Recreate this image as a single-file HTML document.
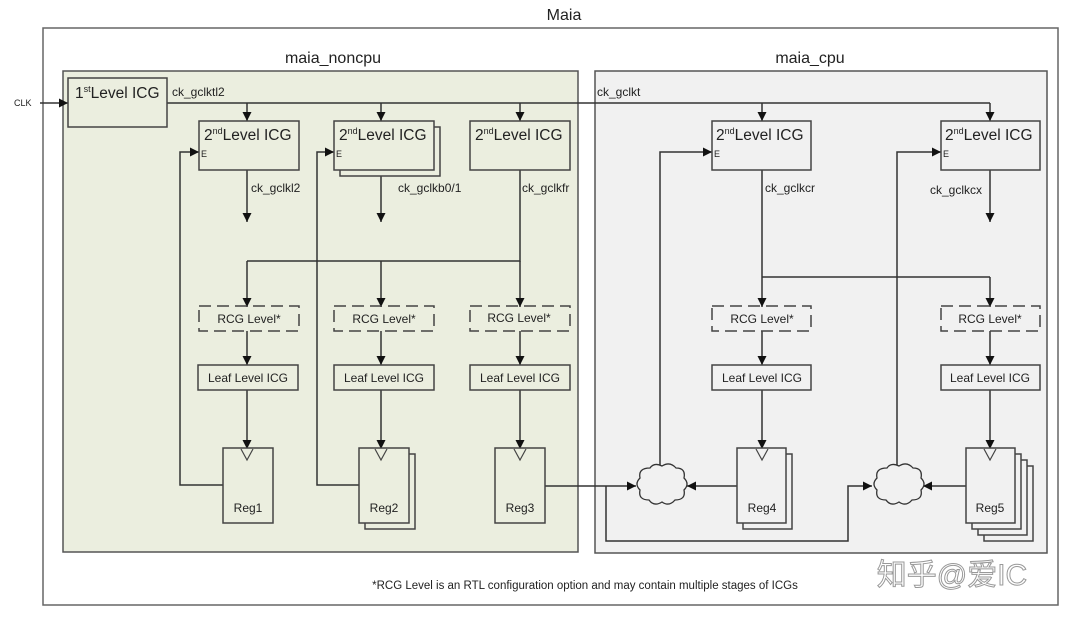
<!DOCTYPE html>
<html><head><meta charset="utf-8"><style>
html,body{margin:0;padding:0;background:#fff;}
svg{display:block;}
text{font-family:"Liberation Sans",Arial,sans-serif;fill:#222;}
</style></head><body>
<svg width="1080" height="620" viewBox="0 0 1080 620" xmlns="http://www.w3.org/2000/svg">
<defs>
<marker id="a" viewBox="0 0 10 10" refX="10" refY="5" markerWidth="9" markerHeight="9" markerUnits="userSpaceOnUse" orient="auto"><path d="M0,0 L10,5 L0,10 z" fill="#111"/></marker>
</defs>
<rect x="0" y="0" width="1080" height="620" fill="#fff"/>
<text x="564" y="20" font-size="16" text-anchor="middle">Maia</text>
<rect x="43" y="28" width="1015" height="577" fill="#fff" stroke="#666" stroke-width="1.5"/>
<text x="333" y="63" font-size="16" text-anchor="middle">maia_noncpu</text>
<text x="810" y="63" font-size="16" text-anchor="middle">maia_cpu</text>
<rect x="63" y="71" width="515" height="481" fill="#ebeedf" stroke="#555" stroke-width="1.5"/>
<rect x="595" y="71" width="452" height="482" fill="#f1f1f1" stroke="#555" stroke-width="1.5"/>

<g stroke="#333" stroke-width="1.5" fill="none">
<line x1="40" y1="103" x2="68" y2="103" marker-end="url(#a)"/>
<line x1="167" y1="103" x2="990" y2="103"/>
<line x1="247" y1="103" x2="247" y2="121" marker-end="url(#a)"/>
<line x1="381" y1="103" x2="381" y2="121" marker-end="url(#a)"/>
<line x1="520" y1="103" x2="520" y2="121" marker-end="url(#a)"/>
<line x1="762" y1="103" x2="762" y2="121" marker-end="url(#a)"/>
<line x1="990" y1="103" x2="990" y2="121" marker-end="url(#a)"/>
<line x1="247" y1="170" x2="247" y2="222" marker-end="url(#a)"/>
<line x1="381" y1="170" x2="381" y2="222" marker-end="url(#a)"/>
<polyline points="520,170 520,261 247,261"/>
<line x1="247" y1="261" x2="247" y2="307" marker-end="url(#a)"/>
<line x1="381" y1="261" x2="381" y2="307" marker-end="url(#a)"/>
<line x1="520" y1="261" x2="520" y2="307" marker-end="url(#a)"/>
<line x1="762" y1="170" x2="762" y2="307" marker-end="url(#a)"/>
<polyline points="762,277 990,277"/>
<line x1="990" y1="277" x2="990" y2="307" marker-end="url(#a)"/>
<line x1="990" y1="170" x2="990" y2="222" marker-end="url(#a)"/>
<line x1="247" y1="331" x2="247" y2="365" marker-end="url(#a)"/>
<line x1="381" y1="331" x2="381" y2="365" marker-end="url(#a)"/>
<line x1="520" y1="331" x2="520" y2="365" marker-end="url(#a)"/>
<line x1="762" y1="331" x2="762" y2="365" marker-end="url(#a)"/>
<line x1="990" y1="331" x2="990" y2="365" marker-end="url(#a)"/>
<line x1="247" y1="390" x2="247" y2="449" marker-end="url(#a)"/>
<line x1="381" y1="390" x2="381" y2="449" marker-end="url(#a)"/>
<line x1="520" y1="390" x2="520" y2="449" marker-end="url(#a)"/>
<line x1="762" y1="390" x2="762" y2="449" marker-end="url(#a)"/>
<line x1="990" y1="390" x2="990" y2="449" marker-end="url(#a)"/>
<polyline points="223,485 180,485 180,152 199,152" marker-end="url(#a)"/>
<polyline points="359,485 317,485 317,152 334,152" marker-end="url(#a)"/>
<polyline points="660,467 660,152 712,152" marker-end="url(#a)"/>
<polyline points="897,467 897,152 941,152" marker-end="url(#a)"/>
<line x1="545" y1="486" x2="636" y2="486" marker-end="url(#a)"/>
<line x1="737" y1="486" x2="687" y2="486" marker-end="url(#a)"/>
<line x1="966" y1="486" x2="923" y2="486" marker-end="url(#a)"/>
<polyline points="606,486 606,541 848,541 848,486 872,486" marker-end="url(#a)"/>
</g>

<g stroke="#444" stroke-width="1.5" fill="#ebeedf">
<rect x="68" y="78" width="99" height="49"/>
<rect x="199" y="121" width="100" height="49"/>
<rect x="340" y="127" width="100" height="49"/>
<rect x="334" y="121" width="100" height="49"/>
<rect x="470" y="121" width="100" height="49"/>
<rect x="198" y="365" width="100" height="25"/>
<rect x="334" y="365" width="100" height="25"/>
<rect x="470" y="365" width="100" height="25"/>
<rect x="223" y="448" width="50" height="75"/>
<rect x="365" y="454" width="50" height="75"/>
<rect x="359" y="448" width="50" height="75"/>
<rect x="495" y="448" width="50" height="75"/>
</g>
<g stroke="#444" stroke-width="1.5" fill="#f1f1f1">
<rect x="712" y="121" width="99" height="49"/>
<rect x="941" y="121" width="99" height="49"/>
<rect x="712" y="365" width="99" height="25"/>
<rect x="941" y="365" width="99" height="25"/>
<rect x="743" y="454" width="49" height="75"/>
<rect x="737" y="448" width="49" height="75"/>
<rect x="984" y="466" width="49" height="75"/>
<rect x="978" y="460" width="49" height="75"/>
<rect x="972" y="454" width="49" height="75"/>
<rect x="966" y="448" width="49" height="75"/>
</g>
<g stroke="#444" stroke-width="1.5" fill="none" stroke-dasharray="12,6">
<rect x="199" y="306" width="100" height="25"/>
<rect x="334" y="306" width="100" height="25"/>
<rect x="470" y="306" width="100" height="25"/>
<rect x="712" y="306" width="99" height="25"/>
<rect x="941" y="306" width="99" height="25"/>
</g>
<g stroke="#444" stroke-width="1.2" fill="none">
<path d="M241,449 L247,460 L253,449"/>
<path d="M375,449 L381,460 L387,449"/>
<path d="M514,449 L520,460 L526,449"/>
<path d="M756,449 L762,460 L768,449"/>
<path d="M984,449 L990,460 L996,449"/>
</g>
<g stroke="#333" stroke-width="1.3" fill="#f1f1f1">
<path d="M640,478 q-2,-10 10,-10 q4,-6 12,-2 q8,-5 14,2 q10,0 8,10 q6,6 0,12 q2,10 -9,10 q-6,7 -13,2 q-8,5 -13,-2 q-11,0 -9,-10 q-6,-6 0,-12 z"/>
<path d="M877,478 q-2,-10 10,-10 q4,-6 12,-2 q8,-5 14,2 q10,0 8,10 q6,6 0,12 q2,10 -9,10 q-6,7 -13,2 q-8,5 -13,-2 q-11,0 -9,-10 q-6,-6 0,-12 z"/>
</g>

<g font-size="15.5">
<text x="75" y="98">1<tspan font-size="9" dy="-6">st</tspan><tspan dy="6">Level ICG</tspan></text>
<text x="204" y="140">2<tspan font-size="9" dy="-6">nd</tspan><tspan dy="6">Level ICG</tspan></text>
<text x="339" y="140">2<tspan font-size="9" dy="-6">nd</tspan><tspan dy="6">Level ICG</tspan></text>
<text x="475" y="140">2<tspan font-size="9" dy="-6">nd</tspan><tspan dy="6">Level ICG</tspan></text>
<text x="716" y="140">2<tspan font-size="9" dy="-6">nd</tspan><tspan dy="6">Level ICG</tspan></text>
<text x="945" y="140">2<tspan font-size="9" dy="-6">nd</tspan><tspan dy="6">Level ICG</tspan></text>
</g>
<g font-size="9">
<text x="201" y="157">E</text><text x="336" y="157">E</text><text x="714" y="157">E</text><text x="943" y="157">E</text>
<text x="14" y="106">CLK</text>
</g>
<g font-size="12">
<text x="172" y="96">ck_gclktl2</text>
<text x="597" y="96">ck_gclkt</text>
<text x="251" y="192">ck_gclkl2</text>
<text x="398" y="192">ck_gclkb0/1</text>
<text x="522" y="192">ck_gclkfr</text>
<text x="765" y="192">ck_gclkcr</text>
<text x="930" y="194">ck_gclkcx</text>
</g>
<g font-size="12" text-anchor="middle">
<text x="249" y="323">RCG Level*</text>
<text x="384" y="323">RCG Level*</text>
<text x="519" y="322">RCG Level*</text>
<text x="762" y="323">RCG Level*</text>
<text x="990" y="323">RCG Level*</text>
<text x="248" y="382">Leaf Level ICG</text>
<text x="384" y="382">Leaf Level ICG</text>
<text x="520" y="382">Leaf Level ICG</text>
<text x="762" y="382">Leaf Level ICG</text>
<text x="990" y="382">Leaf Level ICG</text>
<text x="248" y="512">Reg1</text>
<text x="384" y="512">Reg2</text>
<text x="520" y="512">Reg3</text>
<text x="762" y="512">Reg4</text>
<text x="990" y="512">Reg5</text>
</g>
<text x="585" y="589" font-size="11.5" text-anchor="middle">*RCG Level is an RTL configuration option and may contain multiple stages of ICGs</text>
<text x="952" y="585" font-size="30" text-anchor="middle" style="fill:#fff;stroke:#999;stroke-width:1;font-family:'Liberation Sans','Noto Sans CJK SC',sans-serif">知乎@爱IC</text>
</svg>
</body></html>
